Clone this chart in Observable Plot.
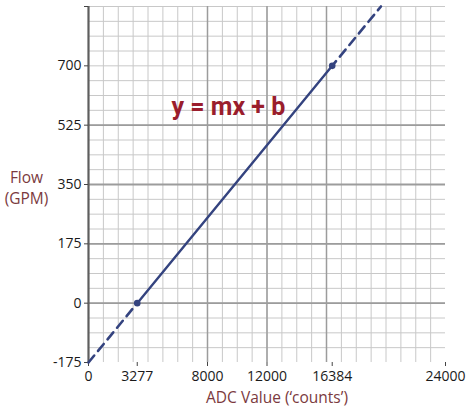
<!DOCTYPE html>
<html>
<head>
<meta charset="utf-8">
<script src="https://cdn.jsdelivr.net/npm/d3@7"></script>
<script src="https://cdn.jsdelivr.net/npm/@observablehq/plot@0.6"></script>
<style>
  html, body { margin: 0; padding: 0; background: #fff; }
  #chart svg { display: block; }
</style>
</head>
<body>
<div id="chart"></div>
<script>
// ---- data ----
const xTicks = [0, 3277, 8000, 12000, 16384, 24000];
const yTicks = [-175, 0, 175, 350, 525, 700, 875];
const xMajorGrid = [8000, 12000, 16000];
const yMajorGrid = [0, 175, 350, 525];
const xMinorGrid = d3.range(1000, 24000, 1000);
const yMinorGrid = d3.range(-131.25, 876, 43.75);

// calibration line: extrapolated ends and the two calibration points
const lineX = [0, 3277, 16384, 19661];
const lineY = [-175, 0, 700, 875];
const linePts = lineX.map((x, i) => ({x, y: lineY[i]}));
const dashLow = linePts.slice(0, 2);
const solid = linePts.slice(1, 3);
const dashHigh = linePts.slice(2, 4);

const equation = [{label: "y = mx + b", x: 9400, y: 578}];
const xLabel = "ADC Value (\u2018counts\u2019)";
const yLabel = "Flow\n(GPM)";

const navy = "#34437f";
const maroon = "#7b3a3e";

const chart = Plot.plot({
  width: 474,
  height: 415,
  marginLeft: 88,
  marginRight: 29,
  marginTop: 6,
  marginBottom: 53,
  style: {fontFamily: "Open Sans", fontSize: "14px", color: "#1a1a1a", background: "#fff"},
  x: {domain: [0, 24000]},
  y: {domain: [-175, 875]},
  marks: [
    Plot.gridX(xMinorGrid, {stroke: "#c8c8c8", strokeOpacity: 1, strokeWidth: 1}),
    Plot.gridY(yMinorGrid, {stroke: "#c8c8c8", strokeOpacity: 1, strokeWidth: 1}),
    Plot.gridX(xMajorGrid, {stroke: "#9c9c9c", strokeOpacity: 1, strokeWidth: 1.5}),
    Plot.gridY(yMajorGrid, {stroke: "#9c9c9c", strokeOpacity: 1, strokeWidth: 1.8}),
    Plot.ruleX([0], {stroke: "#5e5e5e", strokeWidth: 2.2}),
    Plot.axisX(xTicks, {tickSize: 4, tickPadding: 5, stroke: "#444", fill: "#1a1a1a", label: null, tickFormat: d => String(d), fontSize: 14}),
    Plot.axisY(yTicks, {tickSize: 4, tickPadding: 3, stroke: "#444", fill: "#1a1a1a", label: null, tickFormat: d => d === 875 ? "" : String(d), fontSize: 14}),
    Plot.line(dashLow, {x: "x", y: "y", stroke: navy, strokeWidth: 2.6, strokeDasharray: "9,6"}),
    Plot.line(solid, {x: "x", y: "y", stroke: navy, strokeWidth: 2.4}),
    Plot.line(dashHigh, {x: "x", y: "y", stroke: navy, strokeWidth: 2.6, strokeDasharray: "9,6", strokeDashoffset: 3}),
    Plot.dot(solid, {x: "x", y: "y", r: 3.3, fill: navy}),
    Plot.text(equation, {x: "x", y: "y", text: "label", fontSize: 25, fontWeight: "bold", fill: "#9a1d2c", fontFamily: "Roboto"}),
    Plot.text([xLabel], {text: d => d, frameAnchor: "bottom", dx: 10, dy: 40, fontSize: 15.5, fill: maroon}),
    Plot.text([yLabel], {text: d => d, frameAnchor: "left", dx: -62, dy: 2, textAnchor: "middle", lineHeight: 1.4, fontSize: 15.5, fill: maroon})
  ]
});
document.getElementById("chart").appendChild(chart);
</script>
</body>
</html>
